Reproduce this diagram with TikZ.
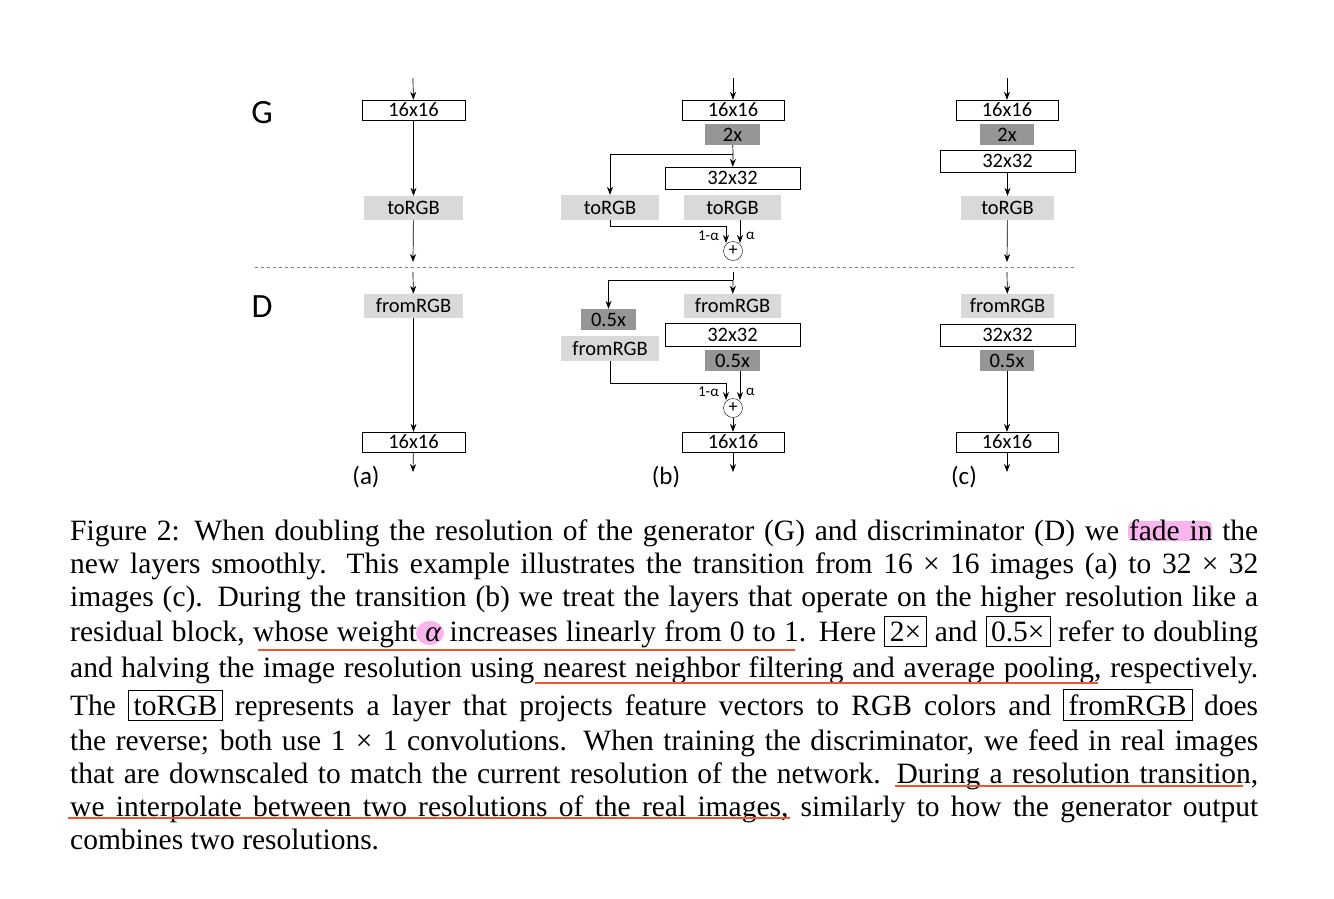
\documentclass[tikz,border=0pt]{standalone}
\usepackage{fontspec}
\setmainfont{Liberation Serif}
\newfontfamily\diag{Carlito}
\usetikzlibrary{arrows.meta}
\definecolor{lg}{RGB}{217,217,217}
\definecolor{dg}{RGB}{150,150,150}
\definecolor{ul}{RGB}{240,85,50}
\definecolor{hl}{RGB}{245,150,230}
\begin{document}
\begin{tikzpicture}[x=1pt,y=-1pt,
  wb/.style={draw,fill=white,inner sep=0pt,font=\diag\fontsize{20.5}{20.5}\selectfont},
  lb/.style={fill=lg,inner sep=0pt,font=\diag\fontsize{20.5}{20.5}\selectfont},
  db/.style={fill=dg,inner sep=0pt,font=\diag\fontsize{20.5}{20.5}\selectfont},
  ar/.style={-{Stealth[length=8pt,width=6pt]},line width=0.7pt},
  ln/.style={line width=0.7pt},
  pl/.style={draw,circle,minimum size=19pt,inner sep=0pt,font=\diag\fontsize{18}{18}\selectfont},
  sm/.style={font=\diag\fontsize{15}{15}\selectfont,inner sep=0pt},
  captxt/.style={anchor=base west,inner sep=0pt,font=\fontsize{29.5}{29.5}\selectfont},
  und/.style={draw=ul,line width=2.2pt}]
\useasboundingbox (0,0) rectangle (1334,898);
\setlength\fboxsep{5pt}
\newcommand\bx[6]{\node[#1,minimum width=#4pt,minimum height=#5pt] (#2) at #3 {#6};}
\newcommand\al{\textit{α}}
\newcommand\tms{\hspace{0.35em}×\hspace{0.35em}}
% labels
\node[font=\diag\fontsize{34}{34}\selectfont] (G) at (262,113) {G};
\node[font=\diag\fontsize{34}{34}\selectfont] (D) at (262,307) {D};
\node[font=\diag\fontsize{25}{25}\selectfont] (la) at (366,477) {(a)};
\node[font=\diag\fontsize{25}{25}\selectfont] (lb) at (666,477) {(b)};
\node[font=\diag\fontsize{25}{25}\selectfont] (lc) at (964,477) {(c)};
\draw[dashed,gray,line width=0.7pt] (255,267) -- (1075,267);
% (a)
\coordinate (a0) at (413,78);
\bx{wb}{a1}{(413.5,110)}{103}{20}{16x16}
\bx{lb}{a2}{(413.5,208)}{99}{24}{toRGB}
\coordinate (a3) at (413,262);
\coordinate (a4) at (413,272);
\bx{lb}{a5}{(413.5,306)}{99}{24}{fromRGB}
\bx{wb}{a6}{(413.5,442)}{103}{20}{16x16}
\coordinate (a7) at (413,472);
\draw[ar] (a0) -- (a1); \draw[ar] (a1) -- (a2); \draw[ar] (a2) -- (a3);
\draw[ar] (a4) -- (a5); \draw[ar] (a5) -- (a6); \draw[ar] (a6) -- (a7);
% (b) G
\coordinate (b0) at (733,78);
\bx{wb}{b1}{(733,110)}{102}{20}{16x16}
\bx{db}{b2}{(732.5,134.5)}{55}{21}{2x}
\coordinate (bs) at (733,154);
\bx{wb}{b3}{(732.5,178)}{135}{22}{32x32}
\bx{lb}{b4}{(732.5,207.5)}{97}{25}{toRGB}
\bx{lb}{b5}{(610,207.5)}{98}{25}{toRGB}
\node[pl] (bp) at (733,251) {+};
\draw[ar] (b0) -- (b1);
\draw[ln] (b2) -- (bs); \draw[ar] (bs) -- (b3);
\draw[ar] (bs) -| (b5);
\draw[ln] (b5.south) |- (726,226); \draw[ar] (726,226) -- (726,243);
\draw[ar] (740,220) -- (740,243);
\node[sm,anchor=east] (bl1) at (719,236) {1-α};
\node[sm,anchor=west] (bl2) at (746,236) {α};
% (b) D
\coordinate (c0) at (733,272);
\coordinate (cs) at (733,280);
\bx{lb}{c1}{(732.5,306)}{97}{24}{fromRGB}
\bx{wb}{c2}{(732.5,334.5)}{135}{23}{32x32}
\bx{db}{c3}{(732.5,360.5)}{55}{21}{0.5x}
\bx{db}{c4}{(608.5,319.5)}{55}{21}{0.5x}
\bx{lb}{c5}{(610,348.5)}{98}{25}{fromRGB}
\node[pl] (cp) at (733,408) {+};
\bx{wb}{c6}{(733,442)}{102}{20}{16x16}
\coordinate (c7) at (733,472);
\draw[ln] (c0) -- (cs); \draw[ar] (cs) -- (c1);
\draw[ar] (cs) -| (c4.north);
\draw[ln] (c5.south) |- (726,383); \draw[ar] (726,383) -- (726,400);
\draw[ar] (740,371) -- (740,400);
\node[sm,anchor=east] (cl1) at (719,392) {1-α};
\node[sm,anchor=west] (cl2) at (746,392) {α};
\draw[ar] (cp) -- (c6); \draw[ar] (c6) -- (c7);
% (c)
\coordinate (d0) at (1007,78);
\bx{wb}{d1}{(1007,110)}{102}{20}{16x16}
\bx{db}{d2}{(1007,134.5)}{54}{21}{2x}
\bx{wb}{d3}{(1007.5,161)}{135}{22}{32x32}
\bx{lb}{d4}{(1007.5,208)}{93}{24}{toRGB}
\coordinate (d5) at (1007,262);
\coordinate (e0) at (1007,272);
\bx{lb}{e1}{(1007.5,306)}{93}{24}{fromRGB}
\bx{wb}{e2}{(1007.5,335)}{135}{22}{32x32}
\bx{db}{e3}{(1007,360.5)}{54}{21}{0.5x}
\bx{wb}{e4}{(1007,442)}{102}{20}{16x16}
\coordinate (e5) at (1007,472);
\draw[ar] (d0) -- (d1); \draw[ar] (d3) -- (d4); \draw[ar] (d4) -- (d5);
\draw[ar] (e0) -- (e1); \draw[ar] (e3) -- (e4); \draw[ar] (e4) -- (e5);
% highlights
\fill[hl,opacity=0.7,rounded corners=6pt] (1128,521) rectangle (1212,541);
\fill[hl,opacity=0.7] (430,633) ellipse (14pt and 12pt);
% caption
\newcommand\cl[2]{\node[captxt] at (70,#1) {\makebox[1188pt][s]{#2}};}
\cl{540}{Figure 2: When doubling the resolution of the generator (G) and discriminator (D) we fade in the}
\cl{573}{new layers smoothly. This example illustrates the transition from 16\tms16 images (a) to 32\tms32}
\cl{606}{images (c). During the transition (b) we treat the layers that operate on the higher resolution like a}
\cl{641}{residual block, whose weight \al{} increases linearly from 0 to 1. Here \fbox{2×} and \fbox{0.5×} refer to doubling}
\cl{677}{and halving the image resolution using nearest neighbor filtering and average pooling, respectively.}
\cl{715}{The \fbox{toRGB} represents a layer that projects feature vectors to RGB colors and \fbox{fromRGB} does}
\cl{750}{the reverse; both use 1\tms1 convolutions. When training the discriminator, we feed in real images}
\cl{783}{that are downscaled to match the current resolution of the network. During a resolution transition,}
\cl{816}{we interpolate between two resolutions of the real images, similarly to how the generator output}
\node[captxt] at (70,849) {combines two resolutions.};
% underlines
\draw[und] (258,650) -- (795,650);
\draw[und] (535,683) -- (1098,683);
\draw[und] (895,786) -- (1243,786);
\draw[und] (68,818) -- (790,818);
\end{tikzpicture}
\end{document}
